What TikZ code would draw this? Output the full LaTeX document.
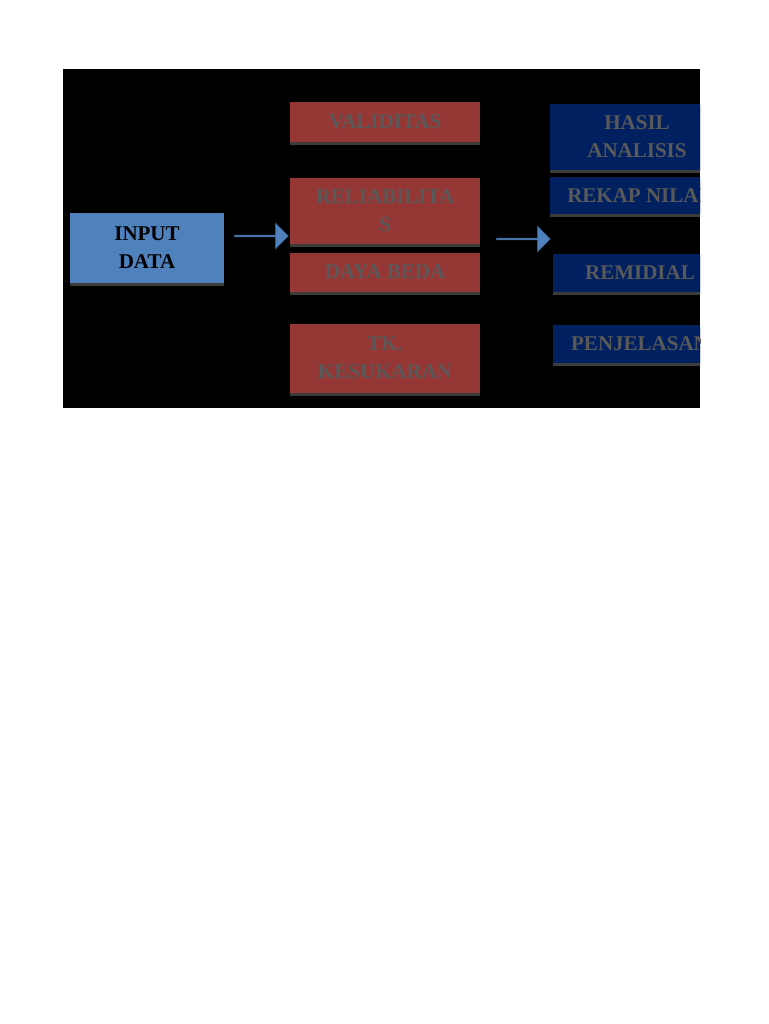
\documentclass[tikz,border=0pt]{standalone}
\usepackage{fontspec}
\setmainfont{Liberation Serif}
\usetikzlibrary{shapes.arrows}
\definecolor{inblue}{HTML}{4F81BD}
\definecolor{boxred}{HTML}{953735}
\definecolor{boxnavy}{HTML}{002060}
\definecolor{txtgray}{HTML}{595959}
\tikzset{
  bx/.style={draw=none,minimum height=#1,inner sep=0pt,align=center,font=\bfseries\fontsize{21}{28}\selectfont,
    preaction={fill=gray!60!black,opacity=0.8,transform canvas={yshift=-3pt}}},
  redbox/.style={bx=#1,fill=boxred,text=txtgray,minimum width=190pt},
  navybox/.style={bx=#1,fill=boxnavy,text=txtgray,minimum width=175pt},
  blk/.style={single arrow,fill=inblue,draw=inblue!70!black,minimum height=54pt,minimum width=26pt,single arrow head extend=3pt,inner sep=0pt}
}
\begin{document}
\begin{tikzpicture}[x=1pt,y=-1pt]
\useasboundingbox (0,0) rectangle (768,1024);
\fill[white] (0,0) rectangle (768,1024);
\fill[black] (63,69) rectangle (700,408);
\begin{scope}
\clip (63,69) rectangle (700,408);
\node[bx=69pt,fill=inblue,text=black,minimum width=154pt] (in) at (147,248) {INPUT\\DATA};
\node[redbox=40pt] (val) at (385,122) {VALIDITAS};
\node[redbox=66pt] (rel) at (385,211) {RELIABILITA\\S};
\node[redbox=39pt] (daya) at (385,272) {DAYA BEDA};
\node[redbox=69pt] (tk) at (385,358) {TK.\\KESUKARAN};
\node[navybox=66pt] (has) at (637,137) {HASIL\\ANALISIS};
\node[navybox=37pt] (rek) at (637,196) {REKAP NILAI};
\node[navybox=38pt] (rem) at (640,273) {REMIDIAL};
\node[navybox=38pt] (pen) at (640,344) {PENJELASAN};
\node[blk] (a1) at (261,236) {};
\node[blk] (a2) at (523,239) {};
\end{scope}
\end{tikzpicture}
\end{document}
